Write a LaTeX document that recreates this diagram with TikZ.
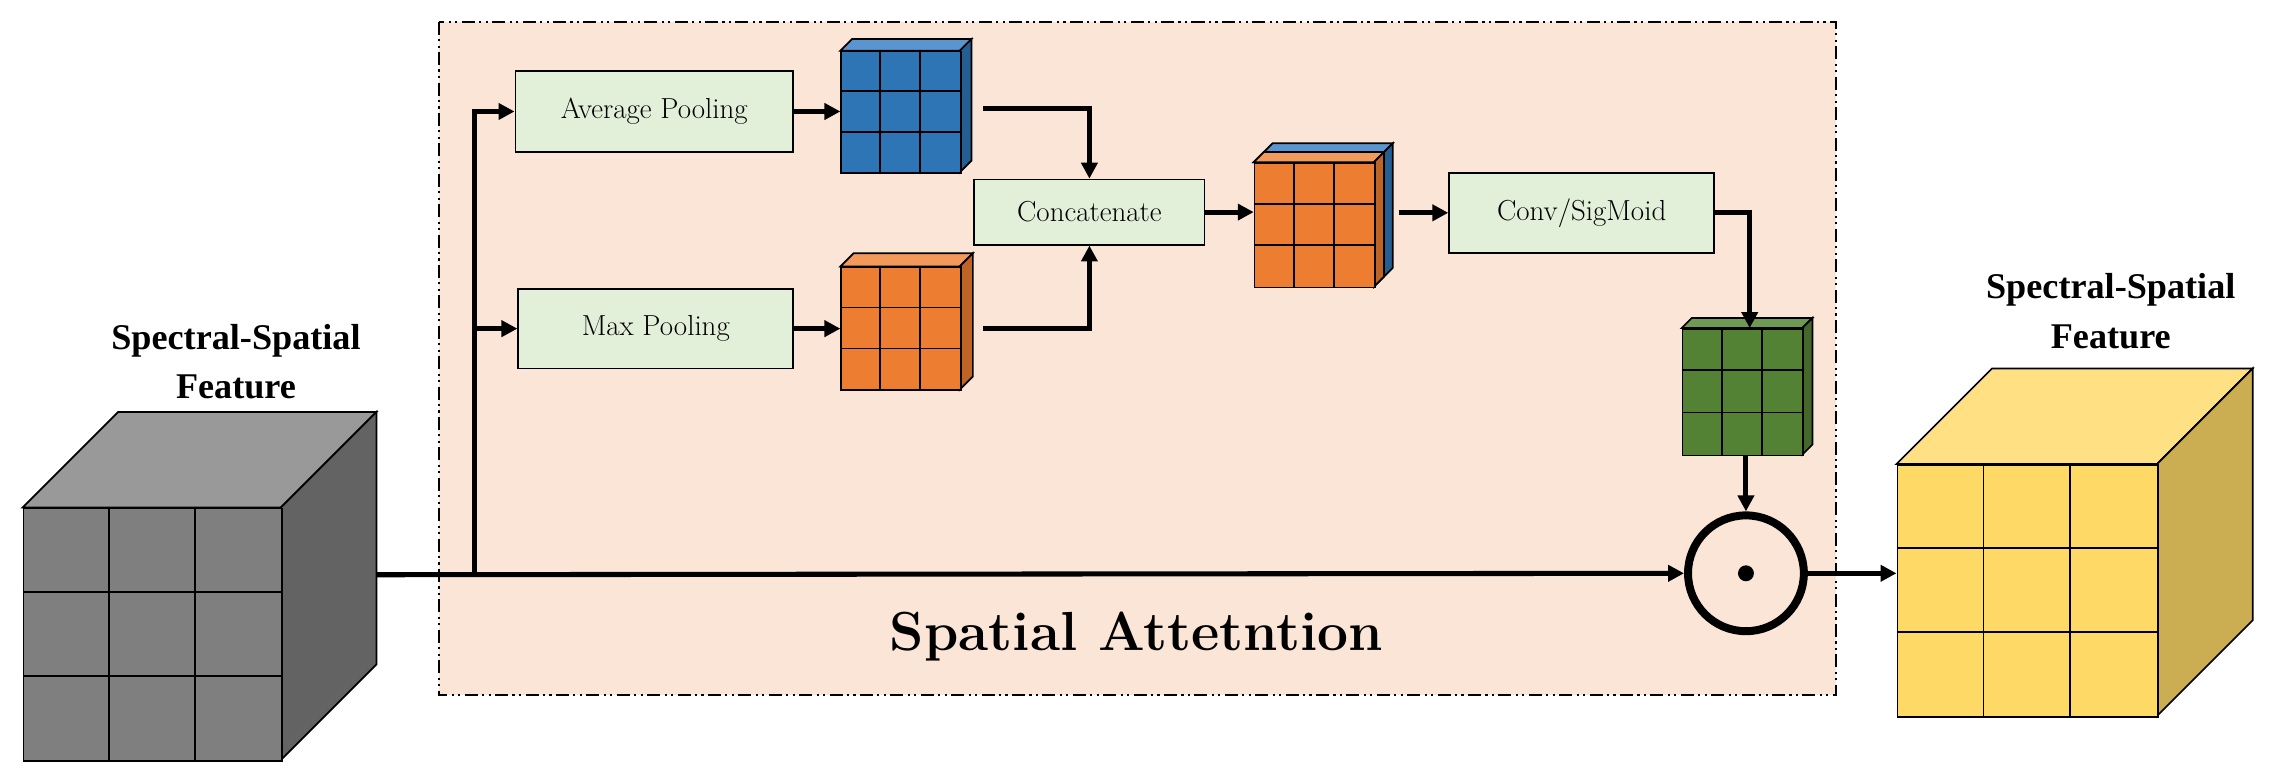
\documentclass[tikz,border=0pt]{standalone}
\usepackage{fontspec}
\newfontfamily\lblfont{Liberation Serif}
\usetikzlibrary{arrows.meta,calc}
\definecolor{peach}{HTML}{FBE5D6}
\definecolor{boxg}{HTML}{E2F0D9}
\definecolor{blu}{HTML}{2E75B6}\definecolor{bluT}{HTML}{5B95CF}\definecolor{bluS}{HTML}{255E92}
\definecolor{org}{HTML}{ED7D31}\definecolor{orgT}{HTML}{F29A5C}\definecolor{orgS}{HTML}{BE6427}
\definecolor{grn}{HTML}{548235}\definecolor{grnT}{HTML}{6F9A55}\definecolor{grnS}{HTML}{43682A}
\definecolor{gry}{HTML}{7F7F7F}\definecolor{gryT}{HTML}{999999}\definecolor{gryS}{HTML}{636363}
\definecolor{yel}{HTML}{FFD966}\definecolor{yelT}{HTML}{FFE083}\definecolor{yelS}{HTML}{CCAE52}
% #1 name, #2 x, #3 y (top), #4 w, #5 h, #6 depth, #7 colour base
\newcommand{\tens}[7]{%
  \filldraw[draw=black,line width=1.2pt,fill=#7T] (#2,#3) -- ++(#6,-#6) -- ++(#4,0) -- ++(-#6,#6) -- cycle;
  \filldraw[draw=black,line width=1.2pt,fill=#7S] (#2+#4,#3) -- ++(#6,-#6) -- ++(0,#5) -- ++(-#6,#6) -- cycle;
  \node[draw,line width=1.2pt,fill=#7,minimum width=#4pt,minimum height=#5pt,inner sep=0pt,anchor=north west] (#1) at (#2,#3) {};
  \draw[line width=1.2pt] ([xshift={#4pt/3}]#1.north west) -- ([xshift={#4pt/3}]#1.south west)
    ([xshift={2*#4pt/3}]#1.north west) -- ([xshift={2*#4pt/3}]#1.south west)
    ([yshift={-#5pt/3}]#1.north west) -- ([yshift={-#5pt/3}]#1.north east)
    ([yshift={-2*#5pt/3}]#1.north west) -- ([yshift={-2*#5pt/3}]#1.north east);
}
\tikzset{
  opbox/.style={draw,line width=1.2pt,fill=boxg,inner sep=0pt,font=\fontsize{20}{24}\selectfont},
  arr/.style={line width=3.5pt,-{Triangle[length=11pt,width=11pt]}},
  lbl/.style={font=\lblfont\bfseries\fontsize{25}{34}\selectfont,align=center},
}
\begin{document}
\begin{tikzpicture}[x=1pt,y=-1pt]
\useasboundingbox (0,0) rectangle (1568,541);
\draw[fill=peach,line width=1.2pt,dash pattern=on 9pt off 3pt on 1.5pt off 3pt on 1.5pt off 3pt] (303,15) rectangle (1268,480);
% cubes
\tens{gray}{15.6}{350.6}{178.4}{174.4}{66}{gry}
\tens{yel}{1310}{320.5}{180}{174}{66}{yel}
\node[lbl] (lblL) at (163,250) {Spectral-Spatial\\Feature};
\node[lbl] (lblR) at (1458,215) {Spectral-Spatial\\Feature};
% boxes
\node[opbox,minimum width=192pt,minimum height=55.5pt] (avg) at (452,77) {Average Pooling};
\node[opbox,minimum width=190pt,minimum height=55pt] (max) at (453,227) {Max Pooling};
\node[opbox,minimum width=159pt,minimum height=45pt] (cat) at (752.5,146.5) {Concatenate};
\node[opbox,minimum width=183pt,minimum height=55.5pt] (conv) at (1092.5,147) {Conv/SigMoid};
% tensors
\tens{bt}{580.5}{35}{82.5}{84}{8}{blu}
\tens{mt}{580.5}{184}{82.5}{85}{9}{org}
\tens{ctb}{866}{112}{83}{86}{13}{blu}
\tens{ct}{866}{112}{83}{86}{7}{org}
\tens{gt}{1161.6}{226.6}{83.4}{87.4}{7}{grn}
% odot
\node[circle,draw,line width=5.5pt,fill=peach,minimum size=80pt,inner sep=0pt] (od) at (1206,396) {};
\fill (od.center) circle (5.5pt);
\node[font=\bfseries\fontsize{38}{44}\selectfont] (title) at (785,440) {Spatial Attetntion};
% connectors
\coordinate (gs) at (260,397);
\coordinate (br) at (328,397);
\draw[arr] (gs) -- (od.west);
\draw[arr] (br) |- (avg.west);
\draw[arr] (br) |- (max.west);
\draw[arr] (avg.east) -- (bt.west|-avg.east);
\draw[arr] (max.east) -- (mt.west|-max.east);
\draw[arr] (679,75) -| (cat.north);
\draw[arr] (679,227) -| (cat.south);
\draw[arr] (cat.east) -- (ct.west|-cat.east);
\draw[arr] (966,147) -- (conv.west);
\draw[arr] (conv.east) -| (gt.north-|1208.6,0);
\draw[arr] (gt.south-|1206,0) -- (od.north);
\draw[arr] (od.east) -- (yel.west|-od.east);
\end{tikzpicture}
\end{document}
